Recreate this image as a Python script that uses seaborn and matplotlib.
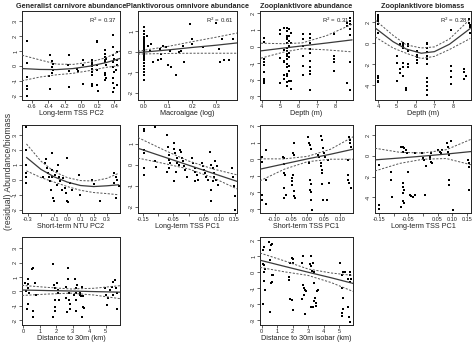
import matplotlib
matplotlib.use("Agg")
import matplotlib.pyplot as plt
import seaborn as sns
import numpy as np

sns.set_theme(style="ticks")
plt.rcParams['font.family'] = ['Liberation Sans', 'DejaVu Sans']

# ---------------- data ----------------
TITLES = ["Generalist carnivore abundance", "Planktivorous omnivore abundance",
          "Zooplanktivore abundance", "Zooplanktivore biomass"]
YLABEL = "(residual) Abundance/biomass"
XLABELS = ["Long-term TSS PC2", "Macroalgae (log)", "Depth (m)", "Depth (m)",
           "Short-term NTU PC2", "Long-term TSS PC1", "Short-term TSS PC1", "Long-term TSS PC1",
           "Distance to 30m (km)", "Distance to 30m isobar (km)"]
R2 = ["R$^2$ = 0.37", "R$^2$ = 0.61", "R$^2$ = 0.31", "R$^2$ = 0.28"]

# Panel 1: Generalist carnivore vs Long-term TSS PC2
P1_X = [-0.665, -0.66, -0.655, -0.66, -0.665, -0.66, -0.38, -0.39, -0.385, -0.35, -0.345, -0.35, -0.34, -0.35,
        -0.155, -0.16, -0.15, -0.155, -0.05, -0.045, 0.02, 0.015, 0.02,
        0.13, 0.125, 0.135, 0.13, 0.125, 0.135, 0.13, 0.135, 0.125,
        0.19, 0.195, 0.19, 0.2, 0.185, 0.19,
        0.29, 0.285, 0.29, 0.295, 0.285, 0.29, 0.295, 0.285, 0.29, 0.295, 0.29,
        0.39, 0.385, 0.39, 0.395, 0.385, 0.39, 0.395, 0.385, 0.39, 0.395, 0.39,
        0.43, 0.435, 0.43, 0.425, 0.435]
P1_Y = [1.71, 0.22, -0.78, -1.33, -1.58, -2.0, 0.71, -0.67, -1.58, 0.31, 0.16, -0.07, -0.29, -0.47,
        0.71, 0.04, -0.36, -1.44, -0.22, -0.33, 0.38, 0.04, -1.22,
        0.38, 0.27, 0.16, -0.02, -0.18, -0.4, -0.62, -1.36, -1.22,
        1.67, 1.6, -1.29, -1.67, 0.04, -0.29,
        1.04, 0.82, 0.6, 0.49, 0.38, 0.27, 0.04, -0.47, -0.62, -0.84, -0.96,
        2.09, 1.27, 0.71, 0.49, 0.27, -0.07, -0.4, -0.84, -1.18, -1.51, -1.73,
        0.93, 0.38, 0.04, -0.29, -1.29]
P1_FX = [-0.72, -0.5, -0.3, -0.1, 0.1, 0.3, 0.47]
P1_FIT = [-0.18, -0.24, -0.25, -0.18, -0.02, 0.22, 0.5]
P1_UP = [0.72, 0.4, 0.12, 0.1, 0.25, 0.55, 1.0]
P1_LO = [-1.0, -0.75, -0.6, -0.5, -0.32, -0.1, 0.02]

# Panel 2: Planktivorous omnivore vs Macroalgae (log)
P2_X = [0.0, 0.001, 0.0, 0.002, 0.0, 0.001, 0.0, 0.002, 0.0, 0.001, 0.0, 0.002, 0.0, 0.001, 0.0,
        0.002, 0.0, 0.001, 0.0, 0.002, 0.0, 0.001, 0.0,
        0.014, 0.018, 0.032, 0.038, 0.025, 0.059, 0.07, 0.07, 0.066, 0.08, 0.093, 0.1, 0.114, 0.134,
        0.148, 0.155, 0.162, 0.168, 0.19, 0.2, 0.2, 0.244, 0.3, 0.312, 0.315, 0.323, 0.333, 0.353, 0.367,
        0.107]
P2_Y = [1.17, 1.0, 0.85, 0.72, 0.6, 0.5, 0.4, 0.3, 0.22, 0.15, 0.08, 0.02, -0.05, -0.12, -0.2,
        -0.3, -0.4, -0.55, -0.7, -0.85, -1.0, -1.15, -1.39,
        0.77, 0.29, 0.37, -0.51, 0.05, -0.43, -0.11, -0.35, 0.13, 0.29, 0.21, -0.67, -0.75, -1.15,
        0.0, 0.05, 0.29, -0.51, 1.33, 0.61, 0.37, 0.21, 1.41, 0.13, -0.51, 0.61, -0.43, -0.4, 0.61,
        0.05]
P2_FX = [-0.023, 0.1, 0.2, 0.3, 0.385]
P2_FIT = [-0.05, 0.08, 0.2, 0.31, 0.42]
P2_UP = [0.02, 0.25, 0.48, 0.7, 0.9]
P2_LO = [-0.12, -0.09, -0.08, -0.08, -0.08]

# Panel 3: Zooplanktivore abundance vs Depth
P3_X = [4.12] * 9 + [5.0] * 4 + [5.23] * 6 + [5.35] * 17 + [5.49] * 9 + [5.61] * 4 + [6.23] * 6 + \
       [6.63] * 10 + [7.93] * 5 + [8.63] * 3 + [8.81] * 7
P3_Y = [0.54, 0.3, -0.76, -0.92, -1.1, -1.56, -1.96, -2.1, -2.22,
        1.0, 0.74, -0.7, -2.2,
        1.1, -0.2, -0.86, -0.96, -1.7, -1.96,
        1.14, 0.94, 0.64, 0.54, 0.44, 0.24, -0.06, -0.26, -0.46, -0.56, -0.76, -1.06, -1.26, -1.66, -1.76, -2.16, -2.36,
        1.04, 0.64, 0.34, 0.04, -0.36, -0.66, -1.16, -1.46, -2.06,
        0.8, 0.24, -2.06, -2.56,
        0.74, 0.44, 0.04, -0.56, -1.16, -1.7,
        0.74, 0.54, 0.24, -0.16, -0.36, -0.86, -1.26, -1.46, -1.66, -2.62,
        0.74, -0.56, -0.76, -0.96, -1.46,
        1.44, 1.24, -2.2,
        1.74, 1.54, 1.34, 1.04, 0.7, -0.96, -2.62]
P3_FX = [3.95, 5.2, 6.2, 7.5, 8.9]
P3_FIT = [-0.26, -0.09, 0.04, 0.21, 0.4]
P3_UP = [0.2, 0.17, 0.22, 0.65, 1.34]
P3_LO = [-0.7, -0.33, -0.13, -0.2, -0.32]

# Panel 4: Zooplanktivore biomass vs Depth
P4_X = [4.0] * 10 + [5.0] * 3 + [5.19] * 3 + [5.33] * 7 + [5.51] * 2 + [5.6] * 5 + [6.1] * 5 + \
       [6.6] * 12 + [7.9] * 5 + [8.6] * 3 + [8.7] + [8.84, 8.84, 8.88, 8.91, 8.91]
P4_Y = [2.68, 2.49, 2.27, 2.11, 1.86, 0.94, -3.09, -3.31, -3.56, -3.72,
        -1.2, -1.83, -3.62,
        -0.09, -2.46, -2.87,
        0.06, -0.16, -0.35, -0.5, -1.83, -2.3, -3.09,
        -4.25, -4.44,
        -0.03, -0.25, -0.72, -1.98, -2.3,
        -0.72, -1.1, -1.35, -1.61, -1.83,
        0.06, -0.09, -0.47, -0.88, -1.2, -1.51, -1.98, -3.31, -3.72, -4.03, -4.44, -4.88,
        1.23, -2.14, -2.61, -3.24, -3.87,
        -2.46, -2.77, -3.4,
        -3.09,
        2.27, 1.95, 1.73, 1.54, 1.0]
P4_FX = [3.85, 4.8, 5.5, 6.3, 7.0, 7.8, 8.91]
P4_FIT = [1.45, 0.15, -0.55, -0.95, -0.8, -0.1, 1.4]
P4_UP = [2.2, 0.75, -0.15, -0.45, -0.35, 0.4, 2.3]
P4_LO = [0.6, -0.45, -0.95, -1.45, -1.25, -0.6, 0.45]

# Panel 5: Generalist carnivore vs Short-term NTU PC2
P5_X = [-0.31, -0.31, -0.31, -0.31, -0.31, -0.31,
        -0.159, -0.154, -0.146, -0.138, -0.133, -0.126, -0.12, -0.12, -0.113, -0.108, -0.1, -0.095,
        -0.082, -0.077, -0.069, -0.062, -0.056, -0.044, -0.031, -0.018, -0.01, -0.005, 0.0, 0.008,
        0.02, 0.033, -0.17, -0.185,
        0.085, 0.097, 0.187, 0.2, 0.251, 0.354, 0.367, 0.38, 0.392, 0.367, 0.354]
P5_Y = [3.51, 2.0, 1.0, 0.44, 0.22, -0.22,
        1.38, 0.78, 0.44, 0.22, -0.11, -0.67, 1.78, 0.67, 0.22, -1.22, -1.44, 0.33,
        0.56, -0.33, 1.0, 0.22, -0.11, -0.67, 0.11, -0.56, -0.89, 1.44, -1.44, -1.51,
        -0.22, -0.67, 1.11, 0.22,
        0.33, -1.0, 0.0, -0.27, -1.44, 0.44, 0.22, 0.0, -0.44, -1.22, -0.22]
P5_FX = [-0.31, -0.2, -0.1, 0.0, 0.1, 0.2, 0.3, 0.39]
P5_FIT = [1.5, 0.7, 0.2, -0.15, -0.38, -0.45, -0.4, -0.33]
P5_UP = [2.4, 1.25, 0.55, 0.15, -0.05, -0.08, 0.1, 0.44]
P5_LO = [0.6, 0.15, -0.15, -0.45, -0.7, -0.85, -0.92, -1.0]

# Panel 6: Planktivorous omnivore vs Long-term TSS PC1
P6_X = [-0.148] * 6 + [-0.11, -0.11, -0.107,
        -0.07, -0.067, -0.065, -0.063, -0.06, -0.063, -0.07,
        -0.049, -0.047, -0.044, -0.038, -0.038, -0.033, -0.041, -0.047,
        -0.028, -0.024, -0.022, -0.02, -0.017, -0.012, -0.006,
        0.01, 0.015, 0.02, 0.022, 0.026, 0.031, 0.02,
        0.044, 0.047, 0.05, 0.052, 0.057, 0.063,
        0.071, 0.073, 0.079, 0.082, 0.084, 0.089, 0.079, 0.073, 0.073,
        0.086, 0.093, 0.097,
        0.143, 0.146, 0.148, 0.15, 0.15]
P6_Y = [1.7, 1.59, 0.71, 0.56, -0.16, -0.51, 1.79, 0.16, -0.11,
        1.43, 0.87, 0.48, 0.24, 0.08, -0.16, -0.32,
        1.03, 0.75, 0.56, 0.32, 0.08, 0.0, -0.32, -0.79,
        0.71, 0.59, 0.32, 0.16, -0.08, -0.24, -0.56,
        0.32, 0.08, -0.16, -0.32, -0.48, -0.71, -0.79,
        0.08, -0.08, -0.24, -0.4, -0.56, -0.71,
        0.63, 0.0, -0.16, -0.4, -0.56, -0.71, -0.79, -1.19, -1.75,
        0.16, -0.08, -0.95,
        -0.16, -0.56, -1.03, -1.51, -2.14]
P6_FX = [-0.166, -0.08, 0.0, 0.08, 0.158]
P6_FIT = [0.79, 0.37, -0.02, -0.41, -0.79]
P6_UP = [1.3, 0.7, 0.18, -0.2, -0.48]
P6_LO = [0.32, 0.06, -0.2, -0.62, -1.15]

# Panel 7: Zooplanktivore abundance vs Short-term TSS PC1
P7_X = [-0.137, -0.137, -0.137, -0.137, -0.127, -0.127, -0.127,
        -0.074, -0.07, -0.07, -0.07, -0.067, -0.072, -0.072, -0.064,
        -0.047, -0.047, -0.047, -0.044, -0.042, -0.044, -0.042, -0.04, -0.042, -0.039,
        0.003, 0.006, 0.008, 0.01, 0.006, 0.008, 0.01, 0.008, 0.01, 0.011, 0.013,
        0.033, 0.036, 0.04, 0.041, 0.043, 0.043, 0.043, 0.046,
        0.04, 0.043, 0.048, 0.05, 0.053, 0.06, 0.063, 0.066,
        0.126, 0.128, 0.13, 0.133, 0.123, 0.123, 0.124, 0.126, 0.133]
P7_Y = [0.16, -0.14, -2.14, -2.48, 0.56, -1.24, -2.68,
        0.12, 0.06, -0.3, -0.84, -0.94, -1.74, -2.34, -2.14,
        -1.14, -1.34, -1.54, -0.94, 0.96, 0.36, 0.26, -1.94, -2.24, -2.34,
        1.36, 0.96, 0.86, 0.6, -0.24, -1.24, -1.48, -1.84, -2.0, -2.44, -3.04,
        0.26, 0.16, -0.24, -0.4, -0.64, -0.84, -1.48, -2.44,
        1.4, 1.16, 0.66, 0.36, 0.16, -2.44, -0.04, -1.44,
        1.36, 1.16, 0.96, 0.76, -0.04, -0.94, -1.24, -1.44, -1.74]
P7_FX = [-0.144, -0.07, 0.0, 0.07, 0.138]
P7_FIT = [-0.6, -0.28, 0.02, 0.3, 0.6]
P7_UP = [0.02, 0.02, 0.17, 0.6, 1.35]
P7_LO = [-1.3, -0.6, -0.15, 0.0, 0.0]

# Panel 8: Zooplanktivore biomass vs Long-term TSS PC1
P8_X = [-0.15, -0.15, -0.15, -0.111, -0.111, -0.108,
        -0.074, -0.07, -0.068, -0.066, -0.07, -0.068, -0.066, -0.07, -0.068, -0.066, -0.074,
        -0.057, -0.055, -0.051, -0.045, -0.04, -0.034, -0.028, -0.028,
        -0.002, 0.0, 0.002, 0.006, 0.011,
        0.023, 0.025, 0.028, 0.031, 0.028,
        0.051, 0.057, 0.063, 0.066,
        0.082, 0.085, 0.085, 0.089, 0.089, 0.091, 0.097, 0.102,
        0.153, 0.157, 0.157, 0.159]
P8_Y = [-0.87, -4.74, -5.16, -1.52, -2.32, -3.94,
        0.84, 0.9, 0.42, 0.74, -2.65, -2.97, -3.29, -3.6, -4.31, -4.56, -4.95,
        0.58, 0.26, -1.52, -3.77, -3.87, -4.0, 0.26, -3.77,
        0.32, -0.23, -0.39, -3.77, -0.97,
        -0.06, -0.32, -0.55, -0.71, 0.26,
        0.58, 0.42, 0.32, 0.58,
        1.23, 0.9, 0.42, 0.1, -2.32, -2.81, 1.48, -5.23,
        -0.39, -0.71, -1.03, -3.29]
P8_FX = [-0.165, -0.08, 0.0, 0.08, 0.165]
P8_FIT = [-0.38, -0.2, -0.02, 0.18, 0.42]
P8_UP = [0.74, 0.35, 0.28, 0.6, 1.6]
P8_LO = [-1.45, -0.72, -0.32, -0.25, -0.85]

# Panel 9: Generalist carnivore vs Distance to 30m
P9_X = [0.12, 0.16, 0.2, 0.27, 0.27, 0.27, 0.27, 0.33, 0.53, 0.57, 0.57, 0.57, 0.73, 0.78,
        1.8, 1.84, 1.9, 1.9, 1.9, 1.9, 1.8, 2.04, 2.1, 2.1, 2.16,
        2.61, 2.61, 2.65, 2.71, 2.71, 2.78, 2.78, 2.82, 2.82,
        3.06, 3.12, 3.18, 3.18, 3.18, 3.22, 3.29,
        3.43, 3.47, 3.53, 3.59, 3.63, 3.67, 3.63, 3.59,
        4.96, 5.02, 5.1, 5.16, 5.27, 5.37, 5.47, 5.47, 5.57, 5.63, 5.67, 5.67]
P9_Y = [0.6, 0.0, -1.22, 0.49, 0.27, 0.89, -0.84, -0.11, 1.56, 1.6, -1.38, -1.78, 0.56, -0.22,
        1.93, 0.44, 0.22, -0.62, -1.11, -1.38, -1.78, 0.56, 0.11, -0.11, -0.62,
        0.33, -0.44, -1.44, 1.6, 0.89, -0.11, -0.56, -0.89, -1.22,
        -0.22, 0.89, 0.22, -0.11, -0.62, -1.38, 0.44,
        -0.11, -0.22, -0.33, 0.33, -1.11, -1.16, -0.33, -1.78,
        0.22, -0.22, -0.93, -0.44, 0.11, 0.33, -0.22, 0.67, 0.78, 0.22, -0.11, -1.22]
P9_FX = [-0.08, 1.5, 2.9, 4.3, 5.88]
P9_FIT = [0.1, 0.06, 0.03, -0.01, -0.05]
P9_UP = [0.42, 0.28, 0.17, 0.22, 0.4]
P9_LO = [-0.28, -0.18, -0.12, -0.25, -0.5]

# Panel 10: Zooplanktivore abundance vs Distance to 30m isobar
P10_X = [0.11, 0.17, 0.11, 0.17, 0.21, 0.17, 0.17, 0.25, 0.11,
         0.46, 0.59, 0.67, 0.53, 0.53, 0.59, 0.67, 0.67, 0.74, 0.53,
         1.85, 1.94, 2.0, 2.06, 1.79, 1.79, 1.85, 1.94, 2.06,
         2.63, 2.69, 2.69, 2.74, 2.78, 2.84, 2.74, 2.63, 2.78,
         3.16, 3.12, 3.2, 3.26, 3.33, 3.37, 3.37, 3.41, 3.47, 3.54, 3.54, 3.58, 3.62, 3.2, 3.33,
         5.05, 5.16, 5.26, 5.37, 5.22, 5.26, 5.26, 5.16, 5.22, 5.58, 5.64, 5.68, 5.68, 5.73, 5.79, 5.73, 5.58]
P10_Y = [1.36, 1.6, 0.5, 0.44, 0.2, 0.0, -0.56, -1.1, -2.0,
         1.9, 1.7, 1.76, 1.4, 0.76, -0.7, -0.6, -0.2, -0.16, -2.5,
         0.6, 0.9, 0.8, 0.6, -0.3, -0.5, -1.7, -1.76, -2.36,
         0.56, 1.04, -0.8, -1.0, -1.1, -1.2, -1.4, -1.7, -2.64,
         1.0, 0.5, 0.4, 0.1, 0.6, 0.0, -0.7, -1.8, -1.6, -2.1, -1.9, -1.2, -1.1, -2.2, -2.16,
         0.6, -0.2, 0.0, 0.0, -1.0, -1.6, -2.3, -2.56, -2.76, -2.2, -2.8, -0.2, -0.6, 0.0, -0.4, -3.1, -0.4]
P10_FX = [-0.1, 1.5, 3.0, 4.5, 5.9]
P10_FIT = [0.75, 0.36, 0.0, -0.35, -0.7]
P10_UP = [1.2, 0.7, 0.2, -0.05, -0.2]
P10_LO = [0.3, 0.02, -0.2, -0.65, -1.2]

# ---------------- layout ----------------
W, H = 474, 343
def box(x0, y0, x1, y1):
    return [x0 / W, 1 - y1 / H, (x1 - x0) / W, (y1 - y0) / H]

panels = [
    dict(pos=box(22, 11, 120, 100), x=P1_X, y=P1_Y, fx=P1_FX, fit=P1_FIT, up=P1_UP, lo=P1_LO,
         xlim=(-0.72, 0.47), ylim=(-2.3, 3.7), xt=[-0.6, -0.4, -0.2, 0.0, 0.2, 0.4],
         xtl=["-0.6", "-0.4", "-0.2", "0.0", "0.2", "0.4"], yt=[-2, -1, 0, 1, 2, 3], title=0, r2=0),
    dict(pos=box(138, 11, 237, 100), x=P2_X, y=P2_Y, fx=P2_FX, fit=P2_FIT, up=P2_UP, lo=P2_LO,
         xlim=(-0.023, 0.385), ylim=(-2.35, 1.97), xt=[0.0, 0.1, 0.2, 0.3],
         xtl=["0.0", "0.1", "0.2", "0.3"], yt=[-2, -1, 0, 1], title=1, r2=1),
    dict(pos=box(260, 11, 353, 100), x=P3_X, y=P3_Y, fx=P3_FX, fit=P3_FIT, up=P3_UP, lo=P3_LO,
         xlim=(3.9, 8.95), ylim=(-3.22, 2.14), xt=[4, 5, 6, 7, 8],
         xtl=["4", "5", "6", "7", "8"], yt=[-3, -2, -1, 0, 1, 2], title=2, r2=2),
    dict(pos=box(375, 11, 471, 100), x=P4_X, y=P4_Y, fx=P4_FX, fit=P4_FIT, up=P4_UP, lo=P4_LO,
         xlim=(3.84, 8.95), ylim=(-5.39, 3.06), xt=[4, 5, 6, 7, 8],
         xtl=["4", "5", "6", "7", "8"], yt=[-4, -2, 0, 2], title=3, r2=3),
    dict(pos=box(22, 125, 120, 213), x=P5_X, y=P5_Y, fx=P5_FX, fit=P5_FIT, up=P5_UP, lo=P5_LO,
         xlim=(-0.344, 0.40), ylim=(-2.22, 3.67), xt=[-0.3, -0.2, -0.1, 0.0, 0.1, 0.2, 0.3],
         xtl=["-0.3", "", "-0.1", "0.0", "0.1", "0.2", "0.3"], yt=[-2, -1, 0, 1, 2, 3]),
    dict(pos=box(138, 125, 237, 213), x=P6_X, y=P6_Y, fx=P6_FX, fit=P6_FIT, up=P6_UP, lo=P6_LO,
         xlim=(-0.166, 0.158), ylim=(-2.3, 1.9), xt=[-0.15, -0.10, -0.05, 0.0, 0.05, 0.10, 0.15],
         xtl=["-0.15", "", "-0.05", "", "0.05", "0.10", "0.15"], yt=[-2, -1, 0, 1]),
    dict(pos=box(260, 125, 353, 213), x=P7_X, y=P7_Y, fx=P7_FX, fit=P7_FIT, up=P7_UP, lo=P7_LO,
         xlim=(-0.144, 0.138), ylim=(-3.24, 2.06), xt=[-0.10, -0.05, 0.0, 0.05, 0.10],
         xtl=["-0.10", "-0.05", "0.00", "0.05", "0.10"], yt=[-3, -2, -1, 0, 1, 2]),
    dict(pos=box(375, 125, 471, 213), x=P8_X, y=P8_Y, fx=P8_FX, fit=P8_FIT, up=P8_UP, lo=P8_LO,
         xlim=(-0.165, 0.165), ylim=(-5.5, 2.98), xt=[-0.15, -0.10, -0.05, 0.0, 0.05, 0.10, 0.15],
         xtl=["-0.15", "", "-0.05", "", "0.05", "0.10", "0.15"], yt=[-4, -2, 0, 2]),
    dict(pos=box(22, 237, 120, 325), x=P9_X, y=P9_Y, fx=P9_FX, fit=P9_FIT, up=P9_UP, lo=P9_LO,
         xlim=(-0.08, 5.88), ylim=(-2.33, 3.78), xt=[0, 1, 2, 3, 4, 5],
         xtl=["0", "1", "2", "3", "4", "5"], yt=[-2, -1, 0, 1, 2, 3]),
    dict(pos=box(260, 237, 353, 325), x=P10_X, y=P10_Y, fx=P10_FX, fit=P10_FIT, up=P10_UP, lo=P10_LO,
         xlim=(-0.1, 5.9), ylim=(-3.3, 2.2), xt=[0, 1, 2, 3, 4, 5],
         xtl=["0", "1", "2", "3", "4", "5"], yt=[-3, -2, -1, 0, 1, 2]),
]

fig = plt.figure(figsize=(W / 100, H / 100), dpi=100)
fig.patch.set_facecolor("white")

for i, p in enumerate(panels):
    ax = fig.add_axes(p["pos"])
    ax.set_facecolor("white")
    sns.scatterplot(x=p["x"], y=p["y"], ax=ax, color="black", s=3.2, marker="s",
                    linewidth=0, legend=False, zorder=3)
    ax.plot(p["fx"], p["fit"], color="#3a3a3a", lw=0.9, zorder=4)
    ax.plot(p["fx"], p["up"], color="#555555", lw=0.7, ls=(0, (2.2, 1.6)), zorder=4)
    ax.plot(p["fx"], p["lo"], color="#555555", lw=0.7, ls=(0, (2.2, 1.6)), zorder=4)
    ax.set_xlim(*p["xlim"])
    ax.set_ylim(*p["ylim"])
    ax.set_xticks(p["xt"])
    ax.set_xticklabels(p["xtl"])
    ax.set_yticks(p["yt"])
    ax.set_yticklabels([str(v) for v in p["yt"]])
    for s in ax.spines.values():
        s.set_visible(True)
        s.set_linewidth(0.7)
        s.set_color("#222222")
    ax.tick_params(axis="both", length=2, width=0.5, pad=0.8, labelsize=4, colors="#222222")
    for lab in ax.get_yticklabels():
        lab.set_rotation(90)
        lab.set_va("center")
    ax.set_xlabel(XLABELS[i], fontsize=5.2, labelpad=0.8, color="#222222")
    ax.set_ylabel("")
    if "title" in p:
        ax.set_title(TITLES[p["title"]], fontsize=5.2, fontweight="bold", pad=2.2)
    if "r2" in p:
        ax.text(0.96, 0.9, R2[p["r2"]], transform=ax.transAxes, ha="right", va="center",
                fontsize=4.3, color="#222222")

fig.text(0.017, 0.5, YLABEL, rotation=90, ha="center", va="center", fontsize=6.2, color="#333333")

fig.savefig("out.png", dpi=100, facecolor="white")
